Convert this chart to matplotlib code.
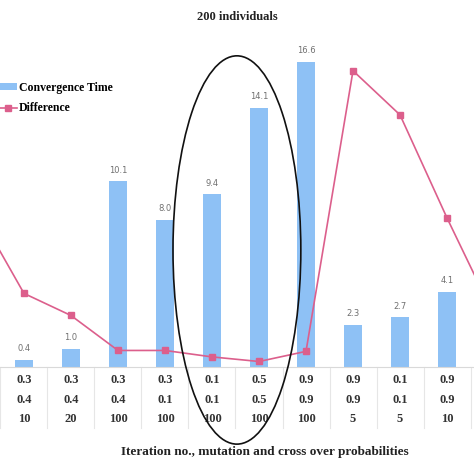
import matplotlib.pyplot as plt
import numpy as np
from matplotlib.patches import Ellipse
from matplotlib.transforms import blended_transform_factory

# convergence time per setting (bars)
conv_time = [0.4, 1.0, 10.1, 8.0, 9.4, 14.1, 16.6, 2.3, 2.7, 4.1]
# difference curve, incl. the neighbours cut off at both edges of the crop
diff_x = np.arange(-1, 11)
difference = [8.5, 4.0, 2.8, 0.9, 0.9, 0.55, 0.3, 0.85, 16.1, 13.7, 8.1, 2.8]

mutation = ['0.3', '0.3', '0.3', '0.3', '0.1', '0.5', '0.9', '0.9', '0.1', '0.9']
crossover = ['0.4', '0.4', '0.4', '0.1', '0.1', '0.5', '0.9', '0.9', '0.1', '0.9']
iterations = ['10', '20', '100', '100', '100', '100', '100', '5', '5', '10']

blue = '#8ec1f5'
pink = '#dc5f8c'
serif = 'Liberation Serif'

fig = plt.figure(figsize=(4.74, 4.74), dpi=100)
ax = fig.add_axes([0, 0.2257, 1, 0.6899])

x = np.arange(len(conv_time))
bars = ax.bar(x, conv_time, 0.38, color=blue, label='Convergence Time', zorder=2)
for xi, v in zip(x, conv_time):
    ax.text(xi, v + 0.35, f'{v:.1f}', ha='center', va='bottom',
            fontsize=6, color='#707070')

line, = ax.plot(diff_x, difference, color=pink, lw=1.2, marker='s', ms=5,
                label='Difference', zorder=3)

ax.set_xlim(-0.51, 9.574)
ax.set_ylim(0, 17.77)
ax.set_xticks([])
ax.set_yticks([])
for s in ['top', 'right', 'left']:
    ax.spines[s].set_visible(False)
ax.spines['bottom'].set_color('#d9d9d9')
ax.spines['bottom'].set_linewidth(0.8)

# table of settings under the axis
tr = blended_transform_factory(ax.transData, fig.transFigure)
rows = [mutation, crossover, iterations]
row_y = [0.198, 0.156, 0.115]
for labels, ry in zip(rows, row_y):
    for xi, lab in zip(x, labels):
        ax.text(xi, ry, lab, transform=tr, ha='center', va='center',
                fontsize=9, fontweight='bold', family=serif, color='#333333')
for b in np.arange(-0.5, 10, 1.0):
    ax.plot([b, b], [0.2257, 0.097], transform=tr, color='#e6e6e6',
            lw=0.8, clip_on=False)

fig.text(0.5, 0.965, '200 individuals', ha='center', va='center',
         fontsize=9, fontweight='bold', family=serif, color='#222222')
fig.text(0.558, 0.046, 'Iteration no., mutation and cross over probabilities',
         ha='center', va='center', fontsize=9.5, fontweight='bold',
         family=serif, color='#222222')

ax.legend(handles=[bars, line], loc='upper left',
          bbox_to_anchor=(-0.002, 0.828),
          bbox_transform=fig.transFigure, frameon=False,
          prop={'family': serif, 'weight': 'bold', 'size': 8.5},
          handlelength=1.5, handleheight=0.5, handletextpad=0.2,
          borderpad=0, borderaxespad=0, labelspacing=0.75)

ell = Ellipse((4.53, 6.36), 2.72, 21.1, fill=False, edgecolor='#111111',
              lw=1.2, clip_on=False, zorder=4)
ax.add_patch(ell)

plt.savefig('out.png', dpi=100)
